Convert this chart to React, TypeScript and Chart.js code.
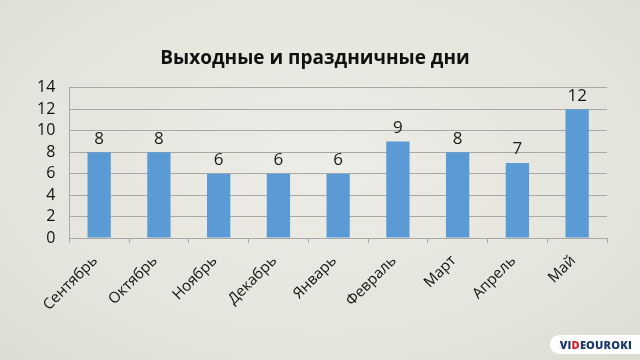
import React, { useEffect, useRef } from "react";
import { Chart, registerables } from "chart.js";

Chart.register(...registerables);

const categories = ["Сентябрь", "Октябрь", "Ноябрь", "Декабрь", "Январь", "Февраль", "Март", "Апрель", "Май"];
const values = [8, 8, 6, 6, 6, 9, 8, 7, 12];
const titleText = "Выходные и праздничные дни";
const yMax = 14;
const yStep = 2;

const valueLabels = {
  id: "valueLabels",
  afterDatasetsDraw(chart: any) {
    const { ctx } = chart;
    const meta = chart.getDatasetMeta(0);
    ctx.save();
    ctx.font = "17px 'Open Sans'";
    ctx.fillStyle = "#1a1a1a";
    ctx.textAlign = "center";
    ctx.textBaseline = "bottom";
    meta.data.forEach((bar: any, i: number) => {
      ctx.fillText(String(chart.data.datasets[0].data[i]), bar.x, bar.y - 5);
    });
    ctx.restore();
  },
};

export default function App() {
  const ref = useRef<HTMLCanvasElement>(null);
  useEffect(() => {
    if (!ref.current) return;
    const chart = new Chart(ref.current, {
      type: "bar",
      data: {
        labels: categories,
        datasets: [
          {
            data: values,
            backgroundColor: "#5b9bd5",
            barPercentage: 0.78,
            categoryPercentage: 0.5,
          },
        ],
      },
      options: {
        animation: false,
        responsive: false,
        layout: { padding: { left: 23, right: 33, top: 47, bottom: 48 } },
        plugins: {
          legend: { display: false },
          tooltip: { enabled: false },
          title: {
            display: true,
            text: titleText,
            color: "#111",
            font: { family: "'Open Sans'", size: 19, weight: "bold" },
            padding: { top: 0, bottom: 18 },
          },
        },
        scales: {
          x: {
            afterFit: (scale: any) => {
              scale.height = 74;
            },
            grid: {
              offset: true,
              drawOnChartArea: false,
              drawTicks: true,
              tickLength: 5,
              color: "#a8a8a8",
            },
            border: { color: "#a8a8a8" },
            ticks: {
              color: "#111",
              font: { family: "'Open Sans'", size: 15 },
              maxRotation: 45,
              minRotation: 45,
              padding: 9,
              labelOffset: -4,
            },
          },
          y: {
            min: 0,
            max: yMax,
            ticks: {
              stepSize: yStep,
              autoSkip: false,
              color: "#111",
              font: { family: "'Open Sans'", size: 16 },
              padding: 14,
            },
            grid: { color: "#a8a8a8", drawTicks: false },
            border: { color: "#a8a8a8" },
          },
        },
      },
      plugins: [valueLabels],
    });
    return () => chart.destroy();
  }, []);
  return (
    <div
      style={{
        position: "fixed",
        left: 0,
        top: 0,
        width: 640,
        height: 360,
        background: "radial-gradient(ellipse at 50% 45%, #ededE7 0%, #e4e4dc 70%, #dcdcd3 100%)",
        overflow: "hidden",
      }}
    >
      <canvas ref={ref} width={640} height={360} />
      <div
        style={{
          position: "absolute",
          right: 0,
          bottom: 6,
          background: "#fff",
          borderTopLeftRadius: 12,
          borderBottomLeftRadius: 12,
          padding: "2px 8px 2px 10px",
          fontFamily: "'Open Sans'",
          fontWeight: 800,
          fontSize: 11,
          color: "#1d3a6b",
          letterSpacing: 0.2,
        }}
      >
        VI<span style={{ color: "#d0202a" }}>D</span>EOUROKI
      </div>
    </div>
  );
}
